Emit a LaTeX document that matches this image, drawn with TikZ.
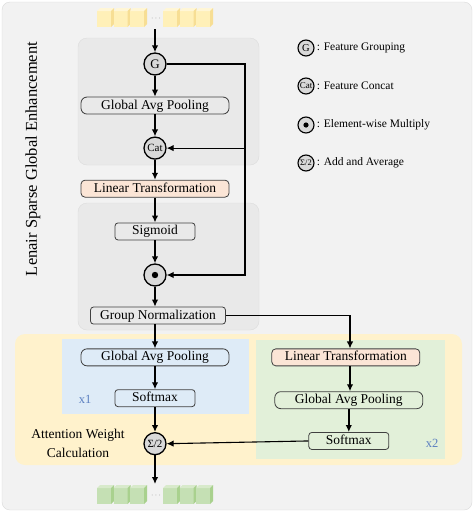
\documentclass[tikz,border=0pt]{standalone}
\usepackage{fontspec}
\setmainfont{Liberation Serif}
\usetikzlibrary{positioning,arrows.meta}

\definecolor{pagefill}{HTML}{F2F2F2}
\definecolor{pageline}{HTML}{DADADA}
\definecolor{grayfill}{HTML}{E9E9E9}
\definecolor{grayline}{HTML}{DCDCDC}
\definecolor{yellowfill}{HTML}{FFF2CC}
\definecolor{bluefill}{HTML}{DEEBF7}
\definecolor{greenfill}{HTML}{E2F0D9}
\definecolor{linfill}{HTML}{FBE5D6}
\definecolor{cirfill}{HTML}{D9D9D9}
\definecolor{boxline}{HTML}{404040}
\definecolor{tagblue}{HTML}{5B7FC0}
\definecolor{ycubefront}{HTML}{FFF0B8}
\definecolor{ycubetop}{HTML}{FFF6D6}
\definecolor{ycubeside}{HTML}{F7DE94}
\definecolor{gcubefront}{HTML}{C5E0B4}
\definecolor{gcubetop}{HTML}{D8EACB}
\definecolor{gcubeside}{HTML}{A9D18E}

% one small feature cube: x, y of front top-left corner, colour prefix
\newcommand{\featcube}[3]{%
  \fill[#3cubefront] (#1,#2) rectangle ++(14,16);
  \fill[#3cubetop] (#1,#2) -- ++(3,-3) -- ++(14,0) -- ++(-3,3) -- cycle;
  \fill[#3cubeside] (#1+14,#2) -- ++(3,-3) -- ++(0,16) -- ++(-3,3) -- cycle;
}

\tikzset{
  opbox/.style={draw=boxline, line width=0.8pt, rounded corners=3pt,
    minimum height=17pt, inner sep=1pt, text height=9.5pt, text depth=2.5pt,
    font=\fontsize{13.5}{15}\selectfont},
  poolbox/.style={opbox, rounded corners=6pt, minimum width=148pt},
  linbox/.style={opbox, rounded corners=4pt, fill=linfill, minimum width=148pt},
  smallbox/.style={opbox, minimum width=80pt},
  opcircle/.style={circle, draw, fill=cirfill, line width=1.3pt,
    minimum size=22pt, inner sep=0pt, font=\fontsize{13}{13}\selectfont},
  keycircle/.style={opcircle, minimum size=16pt, line width=1.1pt},
  keytext/.style={inner sep=0pt, font=\fontsize{11.5}{13}\selectfont},
  dotmark/.style={path picture={\fill[black] (path picture bounding box.center) circle (#1);}},
  tagtext/.style={text=tagblue, font=\fontsize{12.5}{14}\selectfont},
  flow/.style={line width=1.5pt, -{Latex[length=7pt,width=6.5pt]}},
  link/.style={line width=1.1pt, -{Latex[length=7pt,width=6.5pt]}},
}

\begin{document}
\begin{tikzpicture}[x=1pt,y=-1pt]
  \useasboundingbox (0,0) rectangle (474,512);
  % regions
  \draw[pageline, fill=pagefill, rounded corners=8pt] (2,2) rectangle (472,510);
  \draw[grayline, fill=grayfill, rounded corners=9pt] (78,38) rectangle (259,165);
  \draw[grayline, fill=grayfill, rounded corners=9pt] (78,203) rectangle (259,330);
  \fill[yellowfill, rounded corners=10pt] (15,334) rectangle (462,465);
  \fill[bluefill] (62,339) rectangle (249,414);
  \fill[greenfill] (256,340) rectangle (445,459);

  % input and output cubes
  \foreach \cx in {97,113.5,130,163,179.5,196} {
    \featcube{\cx}{11}{y}
    \featcube{\cx}{488}{g}
  }
  \node[text=gray, font=\fontsize{8}{8}\selectfont] (dotsIn) at (156,19) {$\cdots$};
  \node[text=gray, font=\fontsize{8}{8}\selectfont] (dotsOut) at (156,496) {$\cdots$};
  \coordinate (inTop) at (155,29);
  \coordinate (outTop) at (155,484);

  \node[rotate=90, font=\fontsize{16.5}{18}\selectfont] (title) at (33,159)
    {Lenair Sparse Global Enhancement};

  % main chain
  \node[opcircle] (nodeG) at (155,64) {G};
  \node[poolbox] (nodeGAP) [below = 21pt of nodeG] {Global Avg Pooling};
  \node[opcircle, font=\fontsize{11}{11}\selectfont] (nodeCat) [below = 22pt of nodeGAP] {Cat};
  \node[linbox] (nodeLin) [below = 20pt of nodeCat] {Linear Transformation};
  \node[smallbox] (nodeSig) [below = 25pt of nodeLin] {Sigmoid};
  \node[opcircle, dotmark=3.2pt] (nodeMul) [below = 23pt of nodeSig] {};
  \node[opbox, minimum width=135pt, xshift=3pt] (nodeGN) [below = 20pt of nodeMul] {Group Normalization};
  \node[poolbox] (nodeGAPone) [below = 24pt of nodeMul |- nodeGN.south] {Global Avg Pooling};
  \node[smallbox] (nodeSMone) [below = 23pt of nodeGAPone] {Softmax};
  \node[opcircle, font=\fontsize{11}{11}\selectfont] (nodeAvg) [below = 25pt of nodeSMone] {Σ/2};

  % second branch
  \node[linbox] (nodeLintwo) [right = 42pt of nodeGAPone] {Linear Transformation};
  \node[poolbox] (nodeGAPtwo) [below = 25pt of nodeLintwo, xshift=3pt] {Global Avg Pooling};
  \node[smallbox] (nodeSMtwo) [below = 23pt of nodeGAPtwo] {Softmax};

  \node[tagtext] (tagOne) at (85,399) {x1};
  \node[tagtext] (tagTwo) at (432,443) {x2};
  \node[align=center, font=\fontsize{13.5}{19}\selectfont] (attnLabel) at (78,443)
    {Attention Weight\\Calculation};

  % legend
  \node[keycircle, font=\fontsize{10.5}{10.5}\selectfont] (keyG) at (306,48) {G};
  \node[keycircle, font=\fontsize{9}{9}\selectfont] (keyCat) at (306,86) {Cat};
  \node[keycircle, dotmark=2.6pt] (keyMul) at (306,125) {};
  \node[keycircle, font=\fontsize{8.5}{8.5}\selectfont] (keyAvg) at (306,163) {Σ/2};
  \node[keytext] (keyGtext) [right = 2pt of keyG] {: Feature Grouping};
  \node[keytext] (keyCattext) [right = 2pt of keyCat] {: Feature Concat};
  \node[keytext] (keyMultext) [right = 2pt of keyMul] {: Element-wise Multiply};
  \node[keytext] (keyAvgtext) [right = 2pt of keyAvg] {: Add and Average};

  % connectors
  \coordinate (rail) at (245,0);
  \coordinate (drop) at (350,0);
  \draw[flow] (inTop) -- (nodeG);
  \draw[flow] (nodeG) -- (nodeGAP);
  \draw[flow] (nodeGAP) -- (nodeCat);
  \draw[flow] (nodeCat) -- (nodeLin);
  \draw[flow] (nodeLin) -- (nodeSig);
  \draw[flow] (nodeSig) -- (nodeMul);
  \draw[flow] (nodeMul) -- (nodeMul |- nodeGN.north);
  \draw[flow] (nodeMul |- nodeGN.south) -- (nodeGAPone);
  \draw[flow] (nodeGAPone) -- (nodeSMone);
  \draw[flow] (nodeSMone) -- (nodeAvg);
  \draw[flow] (nodeAvg) -- (outTop);
  \draw[flow] (nodeLintwo.south -| drop) -- (nodeGAPtwo.north -| drop);
  \draw[flow] (nodeGAPtwo) -- (nodeSMtwo);
  \draw[link] (nodeG.east) -- (nodeG.east -| rail) |- (nodeMul.east);
  \draw[link] (nodeCat.east -| rail) -- (nodeCat.east);
  \draw[link] (nodeGN.east) -- (nodeGN.east -| drop) -- (nodeLintwo.north -| drop);
  \draw[link] (nodeSMtwo.west) -- (nodeAvg.east);
\end{tikzpicture}
\end{document}
